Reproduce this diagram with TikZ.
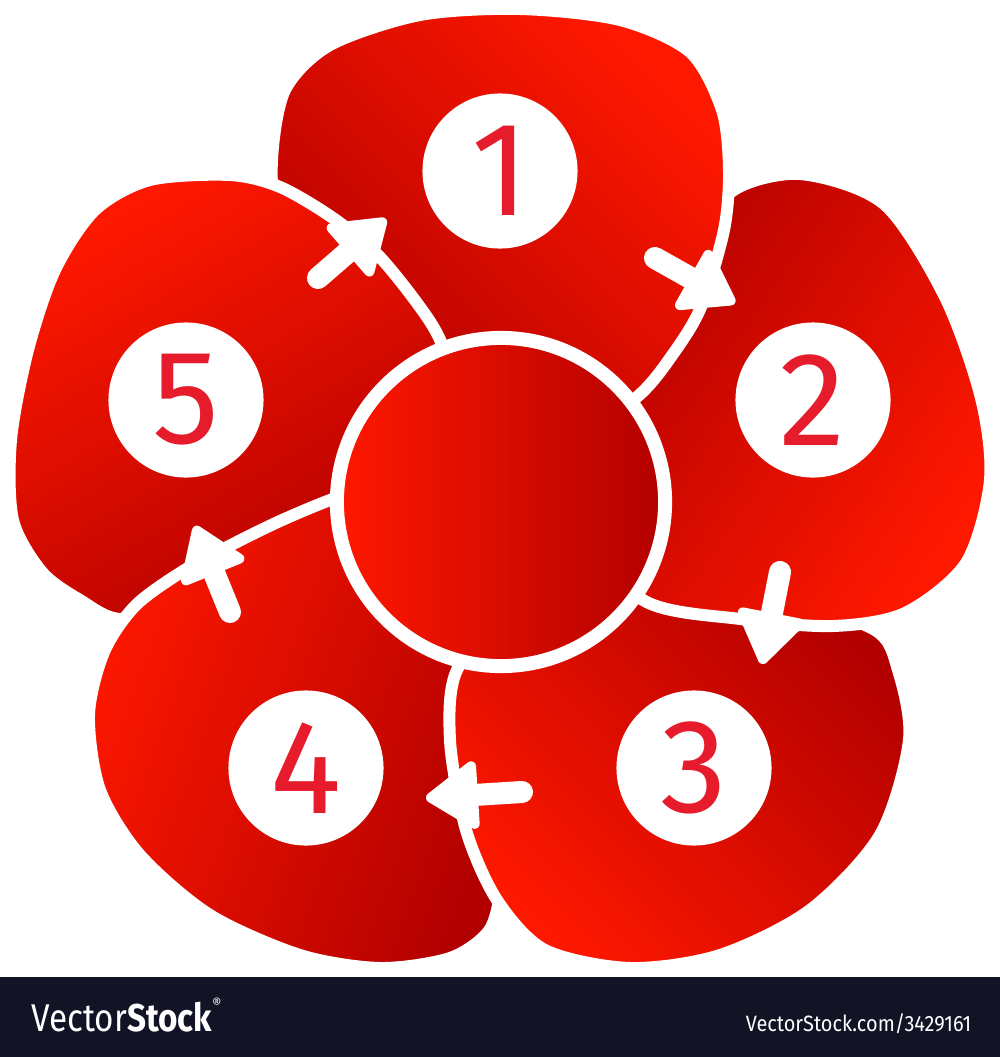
\documentclass[tikz,border=0pt]{standalone}
\usepackage{fontspec}
\setmainfont{Fira Sans}
\usetikzlibrary{arrows.meta}
\definecolor{petallight}{RGB}{255,24,0}
\definecolor{petaldark}{RGB}{178,0,0}
\definecolor{digitred}{RGB}{230,28,44}
\definecolor{barblue}{RGB}{18,20,38}
\tikzset{
  petal/.style={draw=white, line width=0.12cm, line join=round, left color=petallight, right color=petaldark},
  numdisc/.style={circle, fill=white, inner sep=0pt, minimum size=1.55cm, text=digitred, font=\fontsize{38}{38}\selectfont},
  flowarrow/.style={white, line width=0.22cm, line cap=round, -{Triangle[length=0.56cm, width=0.74cm, round, line width=0.1cm]}},
  petalfive/.style={insert path={plot[smooth cycle] coordinates {(230,175) (150,180) (95,210) (55,270) (28,350) (11,440) (13,520) (42,572) (80,600) (122,619) (200,600) (300,555) (420,500) (462,410) (441,342) (417,303) (377,254) (333,218) (280,187)}}}
}

\begin{document}
\begin{tikzpicture}[x=0.01cm, y=-0.01cm]
\useasboundingbox (0,0) rectangle (1000,1057);
\fill[white] (0,0) rectangle (1000,977);
\fill[barblue] (0,977) rectangle (1000,1057);
\path[petal, shading angle=30, petalfive];
\path[petal, shading angle=70] plot[smooth cycle] coordinates {(400,475) (330,500) (280,521) (233,544) (183,571) (135,606) (104,652) (89,715) (100,790) (140,855) (210,915) (300,955) (380,968) (450,958) (488,932) (500,895) (505,840) (495,760) (480,680) (450,580)};
\path[petal, shading angle=135] plot[smooth cycle] coordinates {(458,668) (450,740) (466,830) (497,900) (545,950) (630,968) (720,955) (810,910) (880,835) (909,740) (898,670) (875,630) (780,598) (640,570) (520,610)};
\path[petal, shading angle=-125] plot[smooth cycle] coordinates {(731,192) (800,174) (884,204) (945,297) (981,398) (990,480) (966,563) (905,613) (833,626) (740,619) (643,600) (580,520) (640,360) (705,250)};
\path[petal, shading angle=-45] plot[smooth cycle] coordinates {(272,160) (285,90) (330,45) (420,15) (520,9) (620,20) (690,52) (722,110) (729,170) (724,230) (701,307) (673,354) (637,397) (560,450) (450,400) (400,320) (340,250) (280,205)};
\begin{scope}
\clip (0,0) rectangle (480,440);
\path[petal, shading angle=30, petalfive];
\end{scope}
\node[circle, draw=white, line width=0.14cm, minimum size=3.28cm, inner sep=0pt, left color=petallight, right color=petaldark] (c) at (501,502) {};
\node[numdisc] (1) at (500,171) {1};
\node[numdisc] (2) at (813,400) {2};
\node[numdisc] (3) at (694,768) {3};
\node[numdisc] (4) at (306,768) {4};
\node[numdisc] (5) at (186,400) {5};
\coordinate (t51) at (318,278);
\coordinate (h51) at (386,219);
\coordinate (t12) at (655,258);
\coordinate (h12) at (735,303);
\coordinate (t23) at (780,572);
\coordinate (h23) at (762,664);
\coordinate (t34) at (522,792);
\coordinate (h34) at (426,798);
\coordinate (t45) at (230,612);
\coordinate (h45) at (195,526);
\draw[flowarrow] (t51) -- (h51);
\draw[flowarrow] (t12) -- (h12);
\draw[flowarrow] (t23) -- (h23);
\draw[flowarrow] (t34) -- (h34);
\draw[flowarrow] (t45) -- (h45);
\node[anchor=base west, inner sep=0pt, text=white, font=\fontsize{11}{11}\selectfont] (logo) at (31,1031) {\scalebox{0.86}[1]{Vector\textbf{Stock}}\raisebox{1.1ex}{\fontsize{4}{4}\selectfont\textregistered}};
\node[anchor=base east, inner sep=0pt, text=white, font=\fontsize{6.3}{6.3}\selectfont] (url) at (972,1031) {\scalebox{0.9}[1]{VectorStock.com/3429161}};
\end{tikzpicture}
\end{document}
